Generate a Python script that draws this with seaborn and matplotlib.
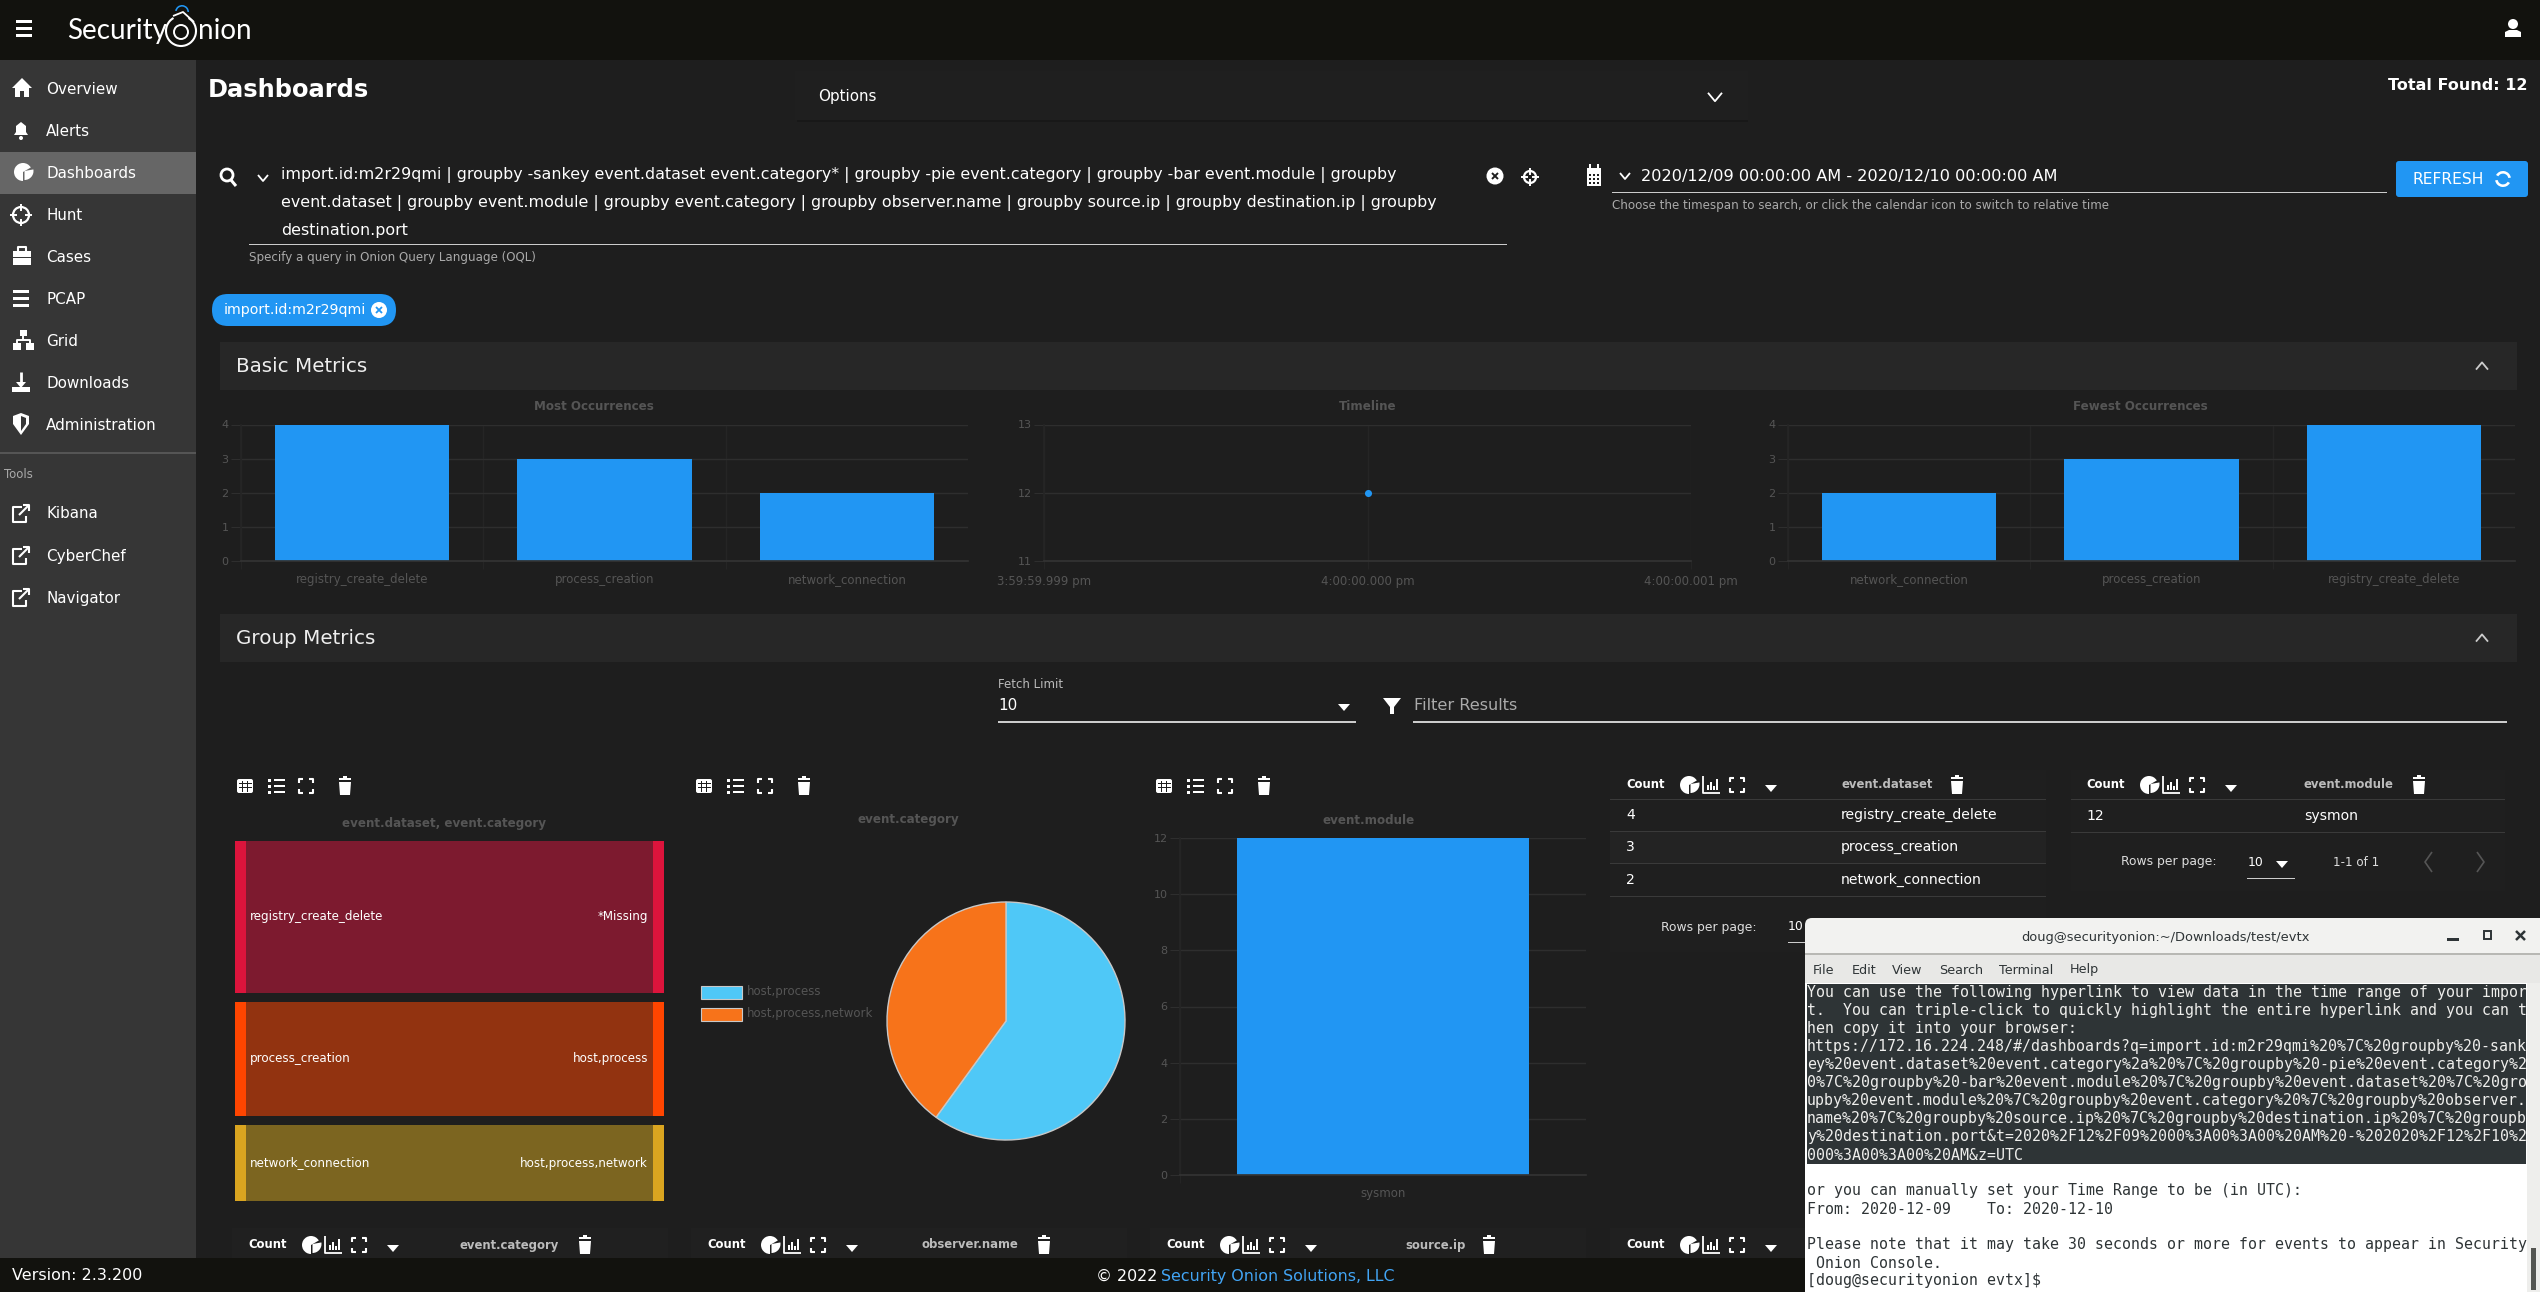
import matplotlib
matplotlib.use("Agg")
import matplotlib.pyplot as plt
from matplotlib.patches import Rectangle, FancyBboxPatch, Circle, Wedge, Polygon, Arc
import seaborn as sns

W, H = 2540, 1292
BG = "#1e1e1e"
TOPBAR = "#12120e"
SIDE = "#363636"
PANEL = "#272727"
BLUE = "#2196f3"
DIM = "#555555"
GRID = "#2e2e2e"
VGRID = "#252525"

# chart data
most_labels = ["registry_create_delete", "process_creation", "network_connection"]
most_values = [4, 3, 2]
fewest_labels = ["network_connection", "process_creation", "registry_create_delete"]
fewest_values = [2, 3, 4]
timeline_ms = [0]
timeline_counts = [12]
timeline_ticks = [-1, 0, 1]
timeline_labels = ["3:59:59.999 pm", "4:00:00.000 pm", "4:00:00.001 pm"]
module_labels = ["sysmon"]
module_values = [12]
pie_labels = ["host,process", "host,process,network"]
pie_values = [3, 2]
pie_colors = ["#4fc8f7", "#f7731a"]
sankey_left = ["registry_create_delete", "process_creation", "network_connection"]
sankey_right = ["*Missing", "host,process", "host,process,network"]
sankey_values = [4, 3, 2]
sankey_nodes = ["#dc143c", "#ff4500", "#daa520"]
sankey_flows = ["#7d1a2f", "#923310", "#7c6520"]

nav_items = ["Overview", "Alerts", "Dashboards", "Hunt", "Cases", "PCAP", "Grid", "Downloads", "Administration"]
tool_items = ["Kibana", "CyberChef", "Navigator"]
query_lines = [
    "import.id:m2r29qmi | groupby -sankey event.dataset event.category* | groupby -pie event.category | groupby -bar event.module | groupby",
    "event.dataset | groupby event.module | groupby event.category | groupby observer.name | groupby source.ip | groupby destination.ip | groupby",
    "destination.port",
]
term_lines = [
    "You can use the following hyperlink to view data in the time range of your impor",
    "t.  You can triple-click to quickly highlight the entire hyperlink and you can t",
    "hen copy it into your browser:",
    "https://172.16.224.248/#/dashboards?q=import.id:m2r29qmi%20%7C%20groupby%20-sank",
    "ey%20event.dataset%20event.category%2a%20%7C%20groupby%20-pie%20event.category%2",
    "0%7C%20groupby%20-bar%20event.module%20%7C%20groupby%20event.dataset%20%7C%20gro",
    "upby%20event.module%20%7C%20groupby%20event.category%20%7C%20groupby%20observer.",
    "name%20%7C%20groupby%20source.ip%20%7C%20groupby%20destination.ip%20%7C%20groupb",
    "y%20destination.port&t=2020%2F12%2F09%2000%3A00%3A00%20AM%20-%202020%2F12%2F10%2",
    "000%3A00%3A00%20AM&z=UTC",
    "",
    "or you can manually set your Time Range to be (in UTC):",
    "From: 2020-12-09    To: 2020-12-10",
    "",
    "Please note that it may take 30 seconds or more for events to appear in Security",
    " Onion Console.",
    "[doug@securityonion evtx]$",
]
term_menu = ["File", "Edit", "View", "Search", "Terminal", "Help"]
term_menu_x = [1813, 1852, 1892, 1939, 1999, 2070]

sns.set_theme(style="dark", rc={"axes.facecolor": BG, "figure.facecolor": BG})
plt.rcParams["font.family"] = ["DejaVu Sans"]

fig = plt.figure(figsize=(W / 100, H / 100), dpi=100)


def px_axes(left, top, right, bottom, z=1):
    ax = fig.add_axes([left / W, 1 - bottom / H, (right - left) / W, (bottom - top) / H], zorder=z)
    return ax


def overlay(z):
    ax = px_axes(0, 0, W, H, z)
    ax.set_xlim(0, W)
    ax.set_ylim(H, 0)
    ax.autoscale(False)
    ax.axis("off")
    return ax


def box(ax, x0, y0, x1, y1, c, **kw):
    ax.add_patch(Rectangle((x0, y0), x1 - x0, y1 - y0, facecolor=c, edgecolor="none", **kw))


def txt(ax, x, y, s, size=10, c="white", ha="left", **kw):
    ax.text(x, y + 1, s, fontsize=size, color=c, ha=ha, va="center", **kw)


def line(ax, xs, ys, c="white", lw=1.2):
    ax.plot(xs, ys, color=c, lw=lw, solid_capstyle="butt")


def chevron(ax, x, y, up=False, c="white", r=5):
    d = -r * 0.6 if up else r * 0.6
    line(ax, [x - r, x, x + r], [y - d, y + d, y - d], c, 1.3)


def caret(ax, x, y, c="white"):
    ax.add_patch(Polygon([(x - 6, y - 3), (x + 6, y - 3), (x, y + 4)], facecolor=c, edgecolor="none"))


def ic_table(ax, x, y):
    ax.add_patch(FancyBboxPatch((x - 8, y - 7), 16, 14, boxstyle="round,pad=0,rounding_size=2", facecolor="white", edgecolor="none"))
    for i in (-3, 2):
        box(ax, x + i, y - 5, x + i + 1, y + 6, BG)
    for j in (-3, 1):
        box(ax, x - 6, y + j, x + 7, y + j + 1, BG)


def ic_calendar(ax, x, y):
    box(ax, x - 7, y - 8, x + 7, y + 10, "white")
    box(ax, x - 5, y - 12, x - 3, y - 7, "white")
    box(ax, x + 3, y - 12, x + 5, y - 7, "white")
    for j in (-2, 2, 6):
        for i in (-5, -1, 3):
            box(ax, x + i, y + j, x + i + 2, y + j + 2, BG)


def ic_list(ax, x, y):
    for j in (-6, 0, 6):
        box(ax, x - 8, y + j - 1, x - 5, y + j + 2, "white")
        box(ax, x - 2, y + j - 1, x + 9, y + j + 1, "white")


def ic_full(ax, x, y, r=7):
    for sx in (-1, 1):
        for sy in (-1, 1):
            line(ax, [x + sx * r, x + sx * r, x + sx * (r - 4)], [y + sy * (r - 4), y + sy * r, y + sy * r], "white", 1.5)


def ic_trash(ax, x, y):
    box(ax, x - 6, y - 8, x + 6, y - 6, "white")
    box(ax, x - 2, y - 10, x + 2, y - 8, "white")
    ax.add_patch(Polygon([(x - 6, y - 4), (x + 6, y - 4), (x + 5, y + 9), (x - 5, y + 9)], facecolor="white", edgecolor="none"))


def ic_pie(ax, x, y, r=9):
    ax.add_patch(Wedge((x, y), r, 90, 330, facecolor="white", edgecolor="none"))
    ax.add_patch(Wedge((x + 1.5, y - 1), r, 350, 90, facecolor="white", edgecolor="none"))


def ic_bars(ax, x, y):
    line(ax, [x - 8, x - 8, x + 9], [y - 9, y + 8, y + 8], "white", 1.3)
    for dx, h in zip((-4, -1, 2, 5), (5, 8, 4, 11)):
        box(ax, x + dx, y + 5 - h, x + dx + 1.5, y + 5, "white")


def ic_ring(ax, x, y, r=8):
    ax.add_patch(Circle((x, y), r, facecolor="none", edgecolor="white", lw=1.6))
    line(ax, [x, x], [y - r - 3, y - r + 4], "white", 1.4)
    line(ax, [x, x], [y + r - 4, y + r + 3], "white", 1.4)
    line(ax, [x - r - 3, x - r + 4], [y, y], "white", 1.4)
    line(ax, [x + r - 4, x + r + 3], [y, y], "white", 1.4)


def ic_clear(ax, x, y):
    ax.add_patch(Circle((x, y), 8.5, facecolor="white", edgecolor="none"))
    line(ax, [x - 3, x + 3], [y - 3, y + 3], BG, 1.4)
    line(ax, [x - 3, x + 3], [y + 3, y - 3], BG, 1.4)


def ic_ext(ax, x, y):
    line(ax, [x + 1, x - 8, x - 8, x + 5, x + 5], [y - 6, y - 6, y + 9, y + 9, y + 3], "white", 1.5)
    line(ax, [x - 2, x + 8], [y + 2, y - 8], "white", 1.5)
    line(ax, [x + 2, x + 8, x + 8], [y - 8, y - 8, y - 2], "white", 1.5)


def ic_home(ax, x, y):
    ax.add_patch(Polygon([(x - 10, y), (x, y - 10), (x + 10, y), (x + 7, y), (x + 7, y + 9), (x + 2, y + 9), (x + 2, y + 3), (x - 2, y + 3), (x - 2, y + 9), (x - 7, y + 9), (x - 7, y)], facecolor="white", edgecolor="none"))


def ic_bell(ax, x, y):
    ax.add_patch(Polygon([(x - 7, y + 5), (x - 5, y + 2), (x - 5, y - 4), (x, y - 8), (x + 5, y - 4), (x + 5, y + 2), (x + 7, y + 5)], facecolor="white", edgecolor="none"))
    ax.add_patch(Circle((x, y + 8), 2, facecolor="white", edgecolor="none"))


def ic_case(ax, x, y):
    box(ax, x - 9, y - 5, x + 9, y + 9, "white")
    line(ax, [x - 4, x - 4, x + 4, x + 4], [y - 5, y - 9, y - 9, y - 5], "white", 1.5)
    box(ax, x - 9, y + 1, x + 9, y + 2, SIDE)


def ic_lines(ax, x, y):
    for j in (-7, 0, 7):
        box(ax, x - 8, y + j - 1, x + 8, y + j + 1.5, "white")


def ic_net(ax, x, y):
    box(ax, x - 3, y - 10, x + 4, y - 4, "white")
    line(ax, [x, x], [y - 4, y], "white", 1.4)
    line(ax, [x - 6, x - 6, x + 7, x + 7], [y + 3, y, y, y + 3], "white", 1.4)
    box(ax, x - 10, y + 3, x - 2, y + 10, "white")
    box(ax, x + 3, y + 3, x + 11, y + 10, "white")


def ic_down(ax, x, y):
    line(ax, [x, x], [y - 10, y + 2], "white", 2)
    ax.add_patch(Polygon([(x - 5, y), (x + 5, y), (x, y + 6)], facecolor="white", edgecolor="none"))
    box(ax, x - 9, y + 5, x + 9, y + 10, "white")


def ic_shield(ax, x, y):
    ax.add_patch(Polygon([(x - 8, y - 8), (x, y - 11), (x + 8, y - 8), (x + 8, y), (x, y + 11), (x - 8, y)], facecolor="white", edgecolor="none"))
    ax.add_patch(Polygon([(x, y - 8), (x + 5, y - 6), (x + 5, y), (x, y + 7)], facecolor=SIDE, edgecolor="none"))


def table_header(ax, x, name, name_x, trash_x, y, fs=8.4):
    txt(ax, x, y, "Count", fs, "white", weight="bold")
    ic_pie(ax, x + 63, y + 2)
    ic_bars(ax, x + 85, y + 2)
    ic_full(ax, x + 111, y + 2)
    caret(ax, x + 145, y + 5)
    if name:
        txt(ax, name_x, y + 1, name, fs, "#bbbbbb", weight="bold")
        ic_trash(ax, trash_x, y + 2)


def style_axes(ax, ylim, yticks):
    ax.set_ylim(*ylim)
    ax.set_yticks(yticks)
    ax.set_xlabel("")
    ax.set_ylabel("")
    ax.grid(False)
    ax.patch.set_alpha(0)
    ax.grid(True, axis="y", color=GRID, lw=1)
    ax.set_axisbelow(True)
    for s in ("top", "right"):
        ax.spines[s].set_visible(False)
    ax.spines["left"].set_color(VGRID)
    ax.spines["bottom"].set_color("#333333")
    ax.tick_params(axis="y", length=7, width=0.8, color=GRID, labelcolor=DIM, labelsize=8, pad=2, left=True)
    ax.tick_params(axis="x", length=0, labelcolor=DIM, labelsize=8.5, pad=9, bottom=True)


def bar_chart(rect, labels, values, ylim, yticks):
    ax = px_axes(*rect)
    sns.barplot(x=labels, y=values, color=BLUE, saturation=1, width=0.72, linewidth=0, ax=ax)
    ax.set_xlim(-0.5, len(labels) - 0.5)
    style_axes(ax, ylim, yticks)
    edges = [i - 0.5 for i in range(len(labels))]
    ax.set_xticks(edges, minor=True)
    ax.grid(True, axis="x", which="minor", color=VGRID, lw=1)
    ax.tick_params(axis="x", which="minor", length=6, width=0.8, color=VGRID, bottom=True)
    return ax


# page chrome
ui = overlay(0)
box(ui, 0, 0, W, H, BG)
box(ui, 0, 0, W, 60, TOPBAR)
box(ui, 0, 60, 196, 1258, SIDE)
box(ui, 0, 1258, W, H, TOPBAR)

# top bar
ic_lines(ui, 24, 28)
txt(ui, 67, 30, "Security", 20, "white", family="Lato")
ui.add_patch(Arc((181, 31), 30, 30, theta1=-60, theta2=240, edgecolor="white", lw=1.5))
ui.add_patch(Circle((181, 32), 7, facecolor="none", edgecolor="white", lw=1.4))
line(ui, [173, 183, 194], [16, 12, 22], "white", 1.3)
ui.add_patch(Wedge((182, 12), 7, 190, 360, width=1.6, facecolor=BLUE, edgecolor="none"))
txt(ui, 198, 30, "nion", 20, "white", family="Lato")
ui.add_patch(Circle((2513, 24), 5, facecolor="white", edgecolor="none"))
ui.add_patch(Polygon([(2505, 37), (2505, 32), (2509, 30), (2517, 30), (2521, 32), (2521, 37)], facecolor="white", edgecolor="none"))

# sidebar
nav_y = [88, 130, 172, 214, 256, 298, 340, 382, 424]
box(ui, 0, 152, 196, 194, "#666666")
for name, y in zip(nav_items, nav_y):
    txt(ui, 46, y, name, 10.9, "white")
ic_home(ui, 22, 88)
ic_bell(ui, 21, 130)
ic_pie(ui, 23, 172)
ic_ring(ui, 21, 215)
ic_case(ui, 22, 256)
ic_lines(ui, 21, 298)
ic_net(ui, 23, 340)
ic_down(ui, 21, 382)
ic_shield(ui, 21, 424)
box(ui, 0, 452, 196, 453.5, "#555555")
txt(ui, 4, 473, "Tools", 8.4, "#aaaaaa")
for name, y in zip(tool_items, [513, 555, 597]):
    txt(ui, 46, y, name, 10.9, "white")
    ic_ext(ui, 21, y)

# heading and options
txt(ui, 208, 89, "Dashboards", 17.4, "white", weight="bold")
box(ui, 797, 120, 1748, 122, "#181818")
box(ui, 795, 71, 1748, 120, "#1f1f1f")
txt(ui, 818, 95, "Options", 10.9, "white")
chevron(ui, 1715, 97, c="white", r=7)
txt(ui, 2528, 84, "Total Found: 12", 11.5, "white", ha="right", weight="bold")

# query line
ui.add_patch(Circle((227, 175), 6, facecolor="none", edgecolor="white", lw=2))
line(ui, [231, 236], [180, 186], "white", 2.2)
chevron(ui, 263, 178)
for s, y in zip(query_lines, [174, 202, 229]):
    txt(ui, 281, y, s, 11.45, "white")
box(ui, 249, 243.5, 1507, 245, "#cccccc")
txt(ui, 249, 257, "Specify a query in Onion Query Language (OQL)", 8.6, "#aaaaaa")
ic_clear(ui, 1495, 176)
ic_ring(ui, 1530, 177, 6)
ic_calendar(ui, 1594, 176)
chevron(ui, 1625, 176)
txt(ui, 1641, 175, "2020/12/09 00:00:00 AM - 2020/12/10 00:00:00 AM", 11.6, "white")
box(ui, 1612, 191.5, 2387, 193, "#cccccc")
txt(ui, 1612, 205, "Choose the timespan to search, or click the calendar icon to switch to relative time", 8.6, "#aaaaaa")
ui.add_patch(FancyBboxPatch((2396, 161), 132, 36, boxstyle="round,pad=0,rounding_size=3", facecolor=BLUE, edgecolor="none"))
txt(ui, 2413, 178, "REFRESH", 11.2, "white")
ui.add_patch(Wedge((2503, 179), 8, 30, 170, width=2.6, facecolor="white", edgecolor="none"))
ui.add_patch(Wedge((2503, 179), 8, 210, 350, width=2.6, facecolor="white", edgecolor="none"))

# filter chip
ui.add_patch(FancyBboxPatch((212, 294), 184, 32, boxstyle="round,pad=0,rounding_size=16", facecolor=BLUE, edgecolor="none"))
txt(ui, 224, 309, "import.id:m2r29qmi", 10.2, "white")
ui.add_patch(Circle((379, 310), 8, facecolor="white", edgecolor="none"))
line(ui, [376, 382], [307, 313], BLUE, 1.3)
line(ui, [376, 382], [313, 307], BLUE, 1.3)

# section headers
box(ui, 220, 342, 2517, 390, PANEL)
txt(ui, 236, 365, "Basic Metrics", 14.3, "#eeeeee")
chevron(ui, 2482, 366, up=True, c="#cccccc", r=6)
box(ui, 220, 614, 2517, 662, PANEL)
txt(ui, 236, 637, "Group Metrics", 14.3, "#eeeeee")
chevron(ui, 2482, 638, up=True, c="#cccccc", r=6)

# chart titles
for s, x, y in [("Most Occurrences", 594, 405), ("Timeline", 1368, 405), ("Fewest Occurrences", 2140, 405),
                ("event.dataset, event.category", 444, 822), ("event.category", 908, 819), ("event.module", 1369, 819)]:
    txt(ui, x, y, s, 8.6, DIM, ha="center", weight="bold")

# fetch limit and filter row
txt(ui, 998, 684, "Fetch Limit", 8.5, "#bbbbbb")
txt(ui, 998, 705, "10", 11, "white")
box(ui, 998, 721, 1356, 722.5, "#cccccc")
caret(ui, 1344, 707)
ui.add_patch(Polygon([(1383, 698), (1401, 698), (1394, 707), (1394, 714), (1390, 714), (1390, 707)], facecolor="white", edgecolor="none"))
txt(ui, 1414, 705, "Filter Results", 11.6, "#aaaaaa")
box(ui, 1413, 721, 2507, 722.5, "#cccccc")

# chart tool icons
for x0 in (245, 704, 1164):
    ic_table(ui, x0, 786)
    ic_list(ui, x0 + 31, 786)
    ic_full(ui, x0 + 61, 786)
    ic_trash(ui, x0 + 100, 786)

# bar charts
bar_chart((241, 424.5, 968, 561), most_labels, most_values, (0, 4), [0, 1, 2, 3, 4])
bar_chart((1788, 424.5, 2515, 561), fewest_labels, fewest_values, (0, 4), [0, 1, 2, 3, 4])
bar_chart((1180, 838, 1586, 1175), module_labels, module_values, (0, 12), [0, 2, 4, 6, 8, 10, 12])

# timeline
ax = px_axes(1044, 424.5, 1691, 561)
sns.scatterplot(x=timeline_ms, y=timeline_counts, color=BLUE, s=26, linewidth=0, ax=ax)
ax.set_xlim(-1, 1)
style_axes(ax, (11, 13), [11, 12, 13])
ax.set_xticks(timeline_ticks, timeline_labels)
ax.grid(True, axis="x", color=VGRID, lw=1)
ax.tick_params(axis="x", length=6, color=VGRID, width=0.8, pad=4)

# pie
ax = px_axes(887, 902, 1125, 1140)
wedges, _ = ax.pie(pie_values, colors=pie_colors, startangle=90, counterclock=False,
                   wedgeprops={"edgecolor": "#c8c8c8", "linewidth": 1})
ax.set_xlim(-1, 1)
ax.set_ylim(-1, 1)
for w in wedges:
    w.set_clip_on(False)
for name, c, y in zip(pie_labels, pie_colors, [992, 1014]):
    ui.add_patch(Rectangle((701, y - 6), 41, 12.5, facecolor=c, edgecolor="#c8c8c8", lw=0.8))
    txt(ui, 747, y - 1, name, 8.5, DIM)

# sankey
ax = px_axes(235, 841, 664, 1201)
gap = 0.237
node_w = 11 / 429
bottom = 0
for i, v in enumerate(sankey_values):
    ax.bar(0.5, v, width=1, bottom=bottom, color=sankey_flows[i], linewidth=0)
    ax.bar(node_w / 2, v, width=node_w, bottom=bottom, color=sankey_nodes[i], linewidth=0)
    ax.bar(1 - node_w / 2, v, width=node_w, bottom=bottom, color=sankey_nodes[i], linewidth=0)
    ax.text(15 / 429, bottom + v / 2, sankey_left[i], color="white", fontsize=8.6, va="center")
    ax.text(1 - 16 / 429, bottom + v / 2, sankey_right[i], color="white", fontsize=8.6, va="center", ha="right")
    bottom += v + gap
ax.set_xlim(0, 1)
ax.set_ylim(bottom - gap, 0)
ax.axis("off")

# side tables
box(ui, 1610, 770, 2046, 952, "#1f1f1f")
table_header(ui, 1626, "event.dataset", 1841, 1957, 783)
for y in (799, 831, 863, 896):
    box(ui, 1610, y, 2046, y + 1, "#3a3a3a")
box(ui, 1610, 832, 2046, 863, "#232323")
for cnt, name, y in zip(sankey_values, sankey_left, [815, 847, 880]):
    txt(ui, 1626, y - 1, str(cnt), 10.1, "white")
    txt(ui, 1841, y - 1, name, 10.1, "white")
txt(ui, 1661, 926, "Rows per page:", 8.9, "#dddddd")
txt(ui, 1788, 926, "10", 8.9, "white")
box(ui, 1788, 942, 1840, 943, "#cccccc")

box(ui, 2071, 770, 2505, 891, "#1f1f1f")
table_header(ui, 2086, "event.module", 2304, 2419, 783)
for y in (799, 832):
    box(ui, 2071, y, 2505, y + 1, "#3a3a3a")
txt(ui, 2086, 815, str(module_values[0]), 10.1, "white")
txt(ui, 2304, 815, module_labels[0], 10.1, "white")
txt(ui, 2121, 861, "Rows per page:", 8.9, "#dddddd")
txt(ui, 2248, 861, "10", 8.9, "white")
caret(ui, 2282, 864)
box(ui, 2247, 878, 2295, 879, "#cccccc")
txt(ui, 2333, 861, "1-1 of 1", 8.6, "#dddddd")
line(ui, [2432, 2425, 2432], [852, 862, 872], "#555555", 1.2)
line(ui, [2477, 2484, 2477], [852, 862, 872], "#555555", 1.2)

# bottom table headers, cut by the footer
for x0, name, nx, tx in [(248, "event.category", 460, 585), (707, "observer.name", 922, 1044),
                         (1166, "source.ip", 1405, 1489), (1626, "", 0, 0)]:
    box(ui, x0 - 16, 1228, x0 + 420, 1258, "#202020")
    table_header(ui, x0, name, nx, tx, 1243)

# footer
txt(ui, 12, 1275, "Version: 2.3.200", 11.5, "white")
txt(ui, 1096, 1275, "\u00a9 2022", 11.4, "white")
txt(ui, 1161, 1275, "Security Onion Solutions, LLC", 11.4, "#42a5f5")

# terminal window on top of the page
top = overlay(5)
top.add_patch(FancyBboxPatch((1805, 918), 760, 400, boxstyle="round,pad=0,rounding_size=7", facecolor="#f2f2f0", edgecolor="none", clip_on=True))
box(top, 1805, 953, W, 955, "#b8b8b4")
box(top, 1805, 955, W, 983, "#e8e8e6")
box(top, 1805, 983, W, H, "white")
txt(top, 2166, 936, "doug@securityonion:~/Downloads/test/evtx", 9.4, "#2e3436", ha="center")
box(top, 2447, 938, 2459, 940.5, "#2e3436")
top.add_patch(Rectangle((2484, 931), 7, 8, facecolor="none", edgecolor="#2e3436", lw=1.4))
line(top, [2516, 2525], [931, 940], "#2e3436", 1.8)
line(top, [2516, 2525], [940, 931], "#2e3436", 1.8)
for s, x in zip(term_menu, term_menu_x):
    txt(top, x, 969, s, 9.2, "#2e3436")
box(top, 1807, 984, 2526, 1164, "#2e3436")
for i, s in enumerate(term_lines):
    c = "#eeeeec" if i < 10 else "#2e3436"
    txt(top, 1807, 992 + 18 * i, s, 10.75, c, family="DejaVu Sans Mono")
box(top, 2527, 983, W, H, "#eeeeec")
box(top, 2531, 1248, 2536, 1290, "#555753")

fig.savefig("out.png", dpi=100, facecolor=BG)
